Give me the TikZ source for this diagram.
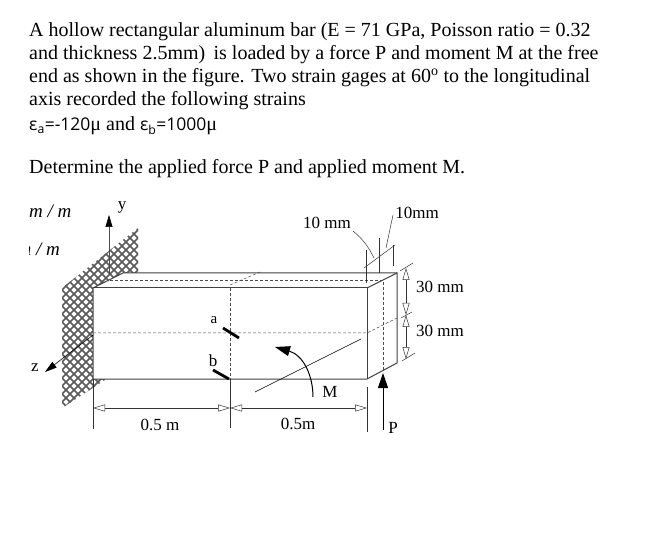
\documentclass[tikz,border=0pt]{standalone}
\usepackage{fontspec}
\setmainfont{Liberation Serif}
\newfontfamily\gagefont{Open Sans}
\usetikzlibrary{arrows.meta}
\tikzset{
	textline/.style={anchor=base west,inner sep=0pt,font=\fontsize{20}{22}\selectfont},
	figlabel/.style={inner sep=0pt,font=\fontsize{17}{20}\selectfont},
	barline/.style={draw=black!75,line width=1pt},
	hidden/.style={draw=black!70,densely dashed,line width=0.5pt},
	dimline/.style={draw=black!80,line width=0.5pt},
	dimarrow/.style={draw=black!80,line width=0.5pt,{Triangle[open,length=12pt,width=7pt]}-{Triangle[open,length=12pt,width=7pt]}},
	gage/.style={line width=2.8pt,black},
	bigarrow/.style={line width=1pt,-{Triangle[length=15pt,width=10pt]}},
}
\begin{document}
\begin{tikzpicture}[x=1pt,y=-1pt]
	\useasboundingbox (0,0) rectangle (656,537);
	
	%szoveg
	\node[textline] (line1) at (29,37) {A hollow rectangular aluminum bar (E = 71 GPa, Poisson ratio = 0.32};
	\node[textline] (line2) at (29,60) {and thickness 2.5mm)\, is loaded by a force P and moment M at the free};
	\node[textline] (line3) at (29,83) {end as shown in the figure. Two strain gages at 60\textsuperscript{o} to the longitudinal};
	\node[textline] (line4) at (29,106) {axis recorded the following strains};
	\node[textline] (line5) at (29,131) {{\gagefont\fontsize{17.5}{20}\selectfont ε\textsubscript{a}=-120}μ and {\gagefont\fontsize{17.5}{20}\selectfont ε\textsubscript{b}=1000}μ};
	\node[textline] (line6) at (29,174) {Determine the applied force P and applied moment M.};
	
	%levagott feliratok
	\node[figlabel,anchor=base west,font=\itshape\fontsize{19}{22}\selectfont] (mm1) at (29,218) {m / m};
	\begin{scope}
		\clip (29,235) rectangle (70,265);
		\node[figlabel,anchor=base east,font=\itshape\fontsize{19}{22}\selectfont] (mm2) at (60,256) {m / m};
	\end{scope}
	
	%fal
	\begin{scope}
		\clip (62,288) -- (138,228) -- (138,300) -- (105,380) -- (62,408) -- cycle;
		\foreach \i in {-240,-232,...,160} {
			\draw[black!65,line width=1.5pt] (\i,180) -- (\i+260,440);
			\draw[black!65,line width=1.5pt] (\i+80,440) -- (\i+340,180);
		}
	\end{scope}
	
	%rud
	\fill[white] (93,288) -- (123,273) -- (397,273) -- (397,363) -- (367,379) -- (93,379) -- cycle;
	\draw[barline] (93,288) -- (123,273) -- (397,273) -- (397,363) -- (367,379) -- (93,379) -- cycle;
	\draw[barline] (93,288) -- (367,288) -- (367,379);
	\draw[barline] (367,288) -- (397,273);
	
	%szaggatott vonalak
	\draw[hidden] (110,280) -- (383,280) -- (383,372);
	\draw[hidden] (93,333) -- (367,333) -- (397,318);
	\draw[hidden] (230,288) -- (230,379);
	\draw[hidden] (230,285) -- (260,272);
	
	%tengelyek
	\draw[line width=0.6pt,black!70,-{Triangle[length=12pt,width=7pt,black]}] (109,275) -- (109,215);
	\draw[line width=0.6pt,black,-{Triangle[length=12pt,width=7pt]}] (93,335) -- (45,372);
	\node[figlabel] (ylabel) at (122,207) {y};
	\node[figlabel] (zlabel) at (35,368) {z};
	
	%belyegek
	\draw[gage] (223,328) -- (239,338);
	\draw[gage] (213,370) -- (229,379);
	\node[figlabel,font=\fontsize{15}{17}\selectfont] (alabel) at (214,320) {a};
	\node[figlabel] (blabel) at (213,361) {b};
	
	%nyomatek
	\draw[line width=0.6pt] (255,392) -- (361,339);
	\draw[bigarrow] (313,397) .. controls (313,375) and (303,355) .. (275,347);
	\node[figlabel] (mlabel) at (330,392) {M};
	
	%ero
	\draw[bigarrow] (383,430) -- (383,373);
	\node[figlabel] (plabel) at (393,428) {P};
	
	%meretvonalak alul
	\draw[dimline] (93,379) -- (93,429);
	\draw[dimline] (230,379) -- (230,428);
	\draw[dimline] (367,387) -- (367,432);
	\draw[dimarrow] (93,408) -- (230,408);
	\draw[dimarrow] (230,408) -- (367,408);
	\node[figlabel] (len1) at (160,425) {0.5 m};
	\node[figlabel] (len2) at (298,424) {0.5m};
	
	%meretvonalak felul
	\draw[dimline] (366,250) -- (366,283);
	\draw[dimline] (379,238) -- (379,273);
	\draw[dimline] (393,245) -- (393,266);
	\draw[dimline] (364,268) -- (395,245);
	\draw[dimline] (353,231) .. controls (364,240) and (369,248) .. (374,258);
	\draw[dimline] (393,215) -- (386,248);
	\node[figlabel] (top1) at (327,223) {10 mm};
	\node[figlabel] (top2) at (417,213) {10mm};
	
	%meretvonalak jobbra
	\draw[dimline] (400,271) -- (413,263);
	\draw[dimline] (401,318) -- (412,312);
	\draw[dimline] (402,361) -- (415,353);
	\draw[dimarrow] (406,268) -- (406,315);
	\draw[dimarrow] (406,315) -- (406,359);
	\node[figlabel] (side1) at (440,287) {30 mm};
	\node[figlabel] (side2) at (440,331) {30 mm};
	
\end{tikzpicture}
\end{document}
